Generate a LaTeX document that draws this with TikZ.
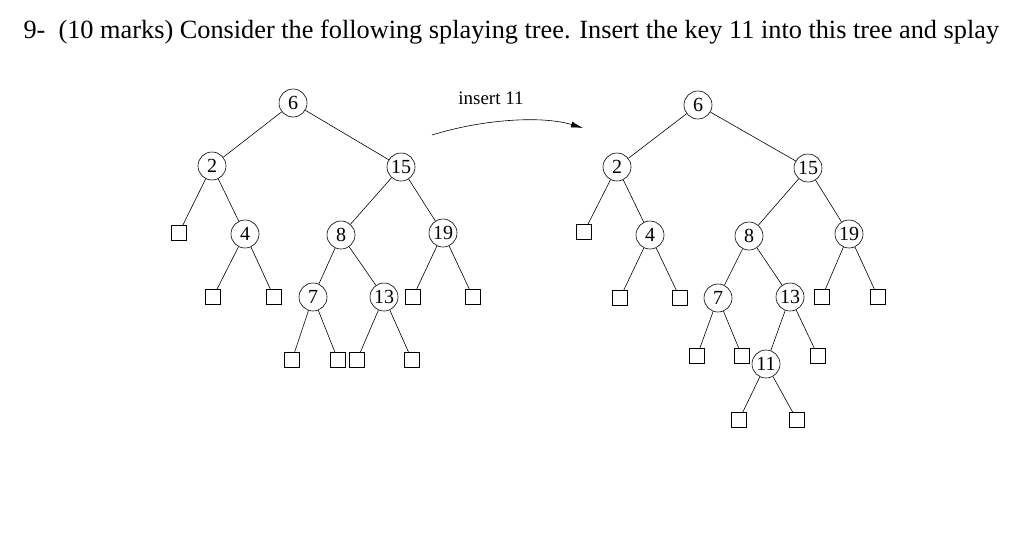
\documentclass[tikz,border=0pt]{standalone}
\usepackage{fontspec}
\setmainfont{Liberation Serif}
\usetikzlibrary{arrows.meta}
\begin{document}
\begin{tikzpicture}[x=1pt,y=-1pt,
  kn/.style={circle,draw,line width=0.6pt,inner sep=0pt,minimum size=28pt,font=\fontsize{20}{20}\selectfont},
  lf/.style={rectangle,draw,line width=0.6pt,inner sep=0pt,minimum size=15pt},
  ed/.style={draw,line width=0.6pt}]
\useasboundingbox (0,0) rectangle (1024,554);
\node[anchor=west,font=\fontsize{26.3}{26.3}\selectfont] (title) at (20,32) {9-\ \ (10 marks) Consider the following splaying tree. Insert the key 11 into this tree and splay};
% left tree
\node[kn] (a6) at (293,103) {6};
\node[kn] (a2) at (212,166) {2};
\node[kn] (a15) at (401,167) {15};
\node[lf] (al1) at (179,233) {};
\node[kn] (a4) at (245,234) {4};
\node[kn] (a8) at (341,235) {8};
\node[kn] (a19) at (443,233) {19};
\node[lf] (al2) at (213,297) {};
\node[lf] (al3) at (274,297) {};
\node[kn] (a7) at (313,297) {7};
\node[kn] (a13) at (384,297) {13};
\node[lf] (al4) at (413,297) {};
\node[lf] (al5) at (473,297) {};
\node[lf] (al6) at (292,360) {};
\node[lf] (al7) at (338,360) {};
\node[lf] (al8) at (357,360) {};
\node[lf] (al9) at (412,360) {};
\foreach \p/\c in {a6/a2,a6/a15,a2/al1,a2/a4,a4/al2,a4/al3,a15/a8,a15/a19,a8/a7,a8/a13,a19/al4,a19/al5,a7/al6,a7/al7,a13/al8,a13/al9}
  \draw[ed] (\p) -- (\c);
% arrow
\node[font=\fontsize{19}{19}\selectfont] (ins) at (491,98) {insert 11};
\coordinate (s) at (432,135);
\coordinate (e) at (583,128);
\draw[-{Latex[length=12pt,width=6pt]},semithick] (s) .. controls (480,120) and (540,115) .. (e);
% right tree
\node[kn] (b6) at (698,105) {6};
\node[kn] (b2) at (617,167) {2};
\node[kn] (b15) at (808,168) {15};
\node[lf] (bl1) at (584,232) {};
\node[kn] (b4) at (650,235) {4};
\node[kn] (b8) at (749,236) {8};
\node[kn] (b19) at (849,234) {19};
\node[lf] (bl2) at (620,298) {};
\node[lf] (bl3) at (680,298) {};
\node[kn] (b7) at (718,298) {7};
\node[kn] (b13) at (790,297) {13};
\node[lf] (bl4) at (822,297) {};
\node[lf] (bl5) at (878,297) {};
\node[lf] (bl6) at (697,356) {};
\node[lf] (bl7) at (742,356) {};
\node[kn] (b11) at (766,364) {11};
\node[lf] (bl8) at (818,356) {};
\node[lf] (bl9) at (739,420) {};
\node[lf] (bl10) at (797,420) {};
\foreach \p/\c in {b6/b2,b6/b15,b2/bl1,b2/b4,b4/bl2,b4/bl3,b15/b8,b15/b19,b8/b7,b8/b13,b19/bl4,b19/bl5,b7/bl6,b7/bl7,b13/b11,b13/bl8,b11/bl9,b11/bl10}
  \draw[ed] (\p) -- (\c);
\end{tikzpicture}
\end{document}
